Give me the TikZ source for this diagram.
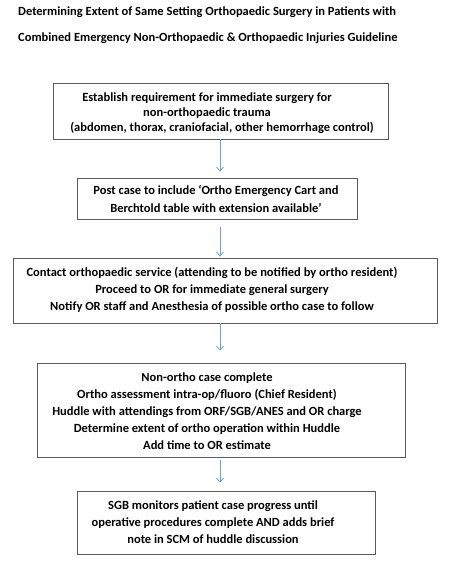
\documentclass[tikz,border=0pt]{standalone}
\usepackage{fontspec}
\setmainfont{Carlito}
\usetikzlibrary{arrows.meta}
\usetikzlibrary{positioning}

\definecolor{flowblue}{RGB}{110,160,215}
\definecolor{boxgray}{RGB}{90,90,90}

\tikzset{
  box/.style={draw=boxgray, line width=0.8pt, inner sep=0pt},
  txt/.style={align=center, font=\bfseries\fontsize{12.5}{17}\selectfont, inner sep=0pt},
  ttl/.style={anchor=west, font=\bfseries\fontsize{12.5}{14}\selectfont, inner sep=0pt},
  flow/.style={draw=flowblue, line width=0.8pt, -{Straight Barb[length=4pt,width=7pt]}},
}

\begin{document}
\begin{tikzpicture}[x=1pt, y=-1pt]
  \useasboundingbox (0,0) rectangle (451,568);

  % heading
  \node[ttl] (title1) at (18,12) {Determining Extent of Same Setting Orthopaedic Surgery in Patients with};
  \node[ttl] (title2) at (18,38) {Combined Emergency Non-Orthopaedic \& Orthopaedic Injuries Guideline};

  % boxes (frame and text are placed apart, as the text sits off centre)
  \node[box, minimum width=335, minimum height=56] (est) at (220.5,111) {};
  \node[txt, font=\bfseries\fontsize{12.5}{15}\selectfont] (esttxt) at (207,113)
    {Establish requirement for immediate surgery for\\
     non-orthopaedic trauma\\
     \hspace*{30pt}(abdomen, thorax, craniofacial, other hemorrhage control)};

  \node[box, minimum width=280, minimum height=41] (post) at (217,198.5) {};
  \node[txt, font=\bfseries\fontsize{12.5}{18}\selectfont] (posttxt) at (216,199)
    {Post case to include `Ortho Emergency Cart and\\
     Berchtold table with extension available'};

  \node[box, minimum width=424, minimum height=65] (contact) at (225,290.5) {};
  \node[txt] (contacttxt) at (212,290)
    {Contact orthopaedic service (attending to be notified by ortho resident)\\
     Proceed to OR for immediate general surgery\\
     Notify OR staff and Anesthesia of possible ortho case to follow};

  \node[box, minimum width=368, minimum height=94] (huddle) at (221,410) {};
  \node[txt] (huddletxt) at (207,411)
    {Non-ortho case complete\\
     Ortho assessment intra-op/fluoro (Chief Resident)\\
     Huddle with attendings from ORF/SGB/ANES and OR charge\\
     Determine extent of ortho operation within Huddle\\
     Add time to OR estimate};

  \node[box, minimum width=298, minimum height=63] (monitor) at (226,522.5) {};
  \node[txt] (monitortxt) at (213,522)
    {SGB monitors patient case progress until\\
     operative procedures complete AND adds brief\\
     note in SCM of huddle discussion};

  % connectors, all on one vertical line
  \coordinate (axis) at (220,0);
  \draw[flow, shorten >=6pt] (est.south -| axis) -- (post.north -| axis);
  \draw[flow, shorten <=8pt, shorten >=1pt] (post.south -| axis) -- (contact.north -| axis);
  \draw[flow, shorten >=12pt] (contact.south -| axis) -- (huddle.north -| axis);
  \draw[flow, shorten <=3pt, shorten >=8pt] (huddle.south -| axis) -- (monitor.north -| axis);
\end{tikzpicture}
\end{document}
